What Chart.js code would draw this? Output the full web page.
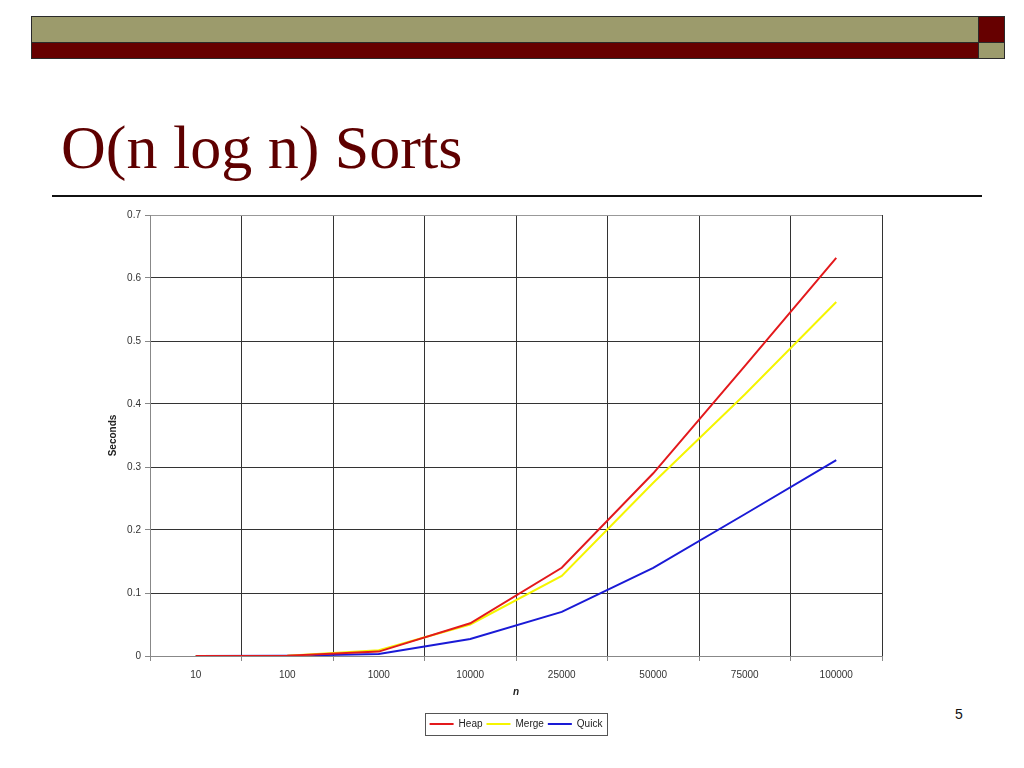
<!DOCTYPE html>
<html>
<head>
<meta charset="utf-8">
<script src="https://cdn.jsdelivr.net/npm/chart.js@4"></script>
<style>
  body { margin: 0; width: 1024px; height: 768px; background: #fff; position: relative; overflow: hidden; font-family: "Liberation Sans", Arial, sans-serif; }
  .bar { position: absolute; box-sizing: border-box; border: 1px solid #2a2a2a; }
  .olive { background: #9c9b6c; }
  .maroon { background: #660000; }
  #titulo { position: absolute; left: 61px; top: 116px; font-family: "Liberation Serif", "Times New Roman", serif; font-size: 62px; line-height: 62px; color: #5e0000; white-space: nowrap; }
  #regua { position: absolute; left: 52px; top: 195px; width: 930px; height: 2px; background: #111; }
  #pagina { position: absolute; left: 955px; top: 706px; font-size: 14px; color: #111; }
  #grafico { position: absolute; left: 60px; top: 205px; }
</style>
</head>
<body>
<div class="bar olive" style="left:31px;top:16px;width:948px;height:27px"></div>
<div class="bar maroon" style="left:31px;top:42px;width:948px;height:17px"></div>
<div class="bar maroon" style="left:978px;top:16px;width:27px;height:27px"></div>
<div class="bar olive" style="left:978px;top:42px;width:27px;height:17px"></div>
<div id="titulo">O(n log n) Sorts</div>
<div id="regua"></div>
<div id="pagina">5</div>
<canvas id="grafico" width="860" height="545"></canvas>
<script>
const tamanhos = ['10', '100', '1000', '10000', '25000', '50000', '75000', '100000'];
const heap = [0, 0.0005, 0.007, 0.052, 0.14, 0.29, 0.46, 0.632];
const merge = [0, 0.0005, 0.009, 0.05, 0.127, 0.275, 0.415, 0.562];
const quick = [0, 0.0005, 0.003, 0.027, 0.07, 0.14, 0.225, 0.311];
const yTicks = [0, 0.1, 0.2, 0.3, 0.4, 0.5, 0.6, 0.7];

const fonte = { family: '"Liberation Sans", Arial, sans-serif', size: 10 };

// centraliza a legenda embaixo da area do grafico (e nao do canvas)
const moverLegenda = {
  id: 'moverLegenda',
  afterLayout(chart) {
    const lg = chart.legend;
    const dx = (chart.chartArea.left + chart.chartArea.right) / 2 - (lg.left + lg.right) / 2;
    lg.left += dx;
    lg.right += dx;
  }
};

// caixa em volta da legenda, como no Excel
const bordaLegenda = {
  id: 'bordaLegenda',
  afterDraw(chart) {
    const caixas = chart.legend.legendHitBoxes;
    if (!caixas || !caixas.length) return;
    const esq = Math.min(...caixas.map(c => c.left)) - 5;
    const dir = Math.max(...caixas.map(c => c.left + c.width)) + 4;
    const topo = Math.min(...caixas.map(c => c.top)) - 6;
    const base = Math.max(...caixas.map(c => c.top + c.height)) + 6;
    const ctx = chart.ctx;
    ctx.save();
    ctx.strokeStyle = '#555';
    ctx.lineWidth = 1;
    ctx.strokeRect(Math.round(esq) + 0.5, Math.round(topo) + 0.5, Math.round(dir - esq), Math.round(base - topo));
    ctx.restore();
  }
};

function serie(nome, valores, cor) {
  return {
    label: nome,
    data: valores,
    borderColor: cor,
    backgroundColor: cor,
    borderWidth: 2,
    pointRadius: 0,
    tension: 0,
    fill: false
  };
}

new Chart(document.getElementById('grafico'), {
  type: 'line',
  data: {
    labels: tamanhos,
    datasets: [
      serie('Heap', heap, '#e3191c'),
      serie('Merge', merge, '#f5f500'),
      serie('Quick', quick, '#1a1ad6')
    ]
  },
  options: {
    responsive: false,
    animation: false,
    devicePixelRatio: 1,
    layout: { padding: { left: 45, right: 38, top: 10, bottom: 11 } },
    plugins: {
      legend: {
        position: 'bottom',
        labels: {
          usePointStyle: true,
          pointStyle: 'line',
          pointStyleWidth: 24,
          boxHeight: 10,
          padding: 4,
          color: '#222',
          font: fonte
        }
      },
      tooltip: { enabled: false }
    },
    scales: {
      x: {
        offset: true,
        grid: {
          offset: true,
          color: ctx => (ctx.index === 0 ? '#888' : '#333'),
          lineWidth: 1,
          tickLength: 5,
          tickColor: '#888'
        },
        border: { color: '#888', width: 1 },
        ticks: { color: '#333', font: fonte, padding: 8, maxRotation: 0, autoSkip: false },
        title: { display: true, text: 'n', color: '#222', font: { ...fonte, style: 'italic', weight: 'bold' }, padding: { top: 4, bottom: 17 } },
        afterFit: scale => { scale.height = 59; }
      },
      y: {
        min: 0,
        max: 0.7,
        afterBuildTicks: scale => { scale.ticks = yTicks.map(v => ({ value: v })); },
        grid: {
          color: ctx => (ctx.tick && ctx.tick.value === 0.7 ? '#999' : '#333'),
          lineWidth: 1,
          tickLength: 5,
          tickColor: '#888'
        },
        border: { color: '#888', width: 1 },
        ticks: { color: '#333', font: fonte, padding: 4 },
        title: { display: true, text: 'Seconds', color: '#222', font: { ...fonte, weight: 'bold' }, padding: { top: 2, bottom: 0 } },
        afterFit: scale => { scale.width = 45; }
      }
    }
  },
  plugins: [moverLegenda, bordaLegenda]
});
</script>
</body>
</html>
